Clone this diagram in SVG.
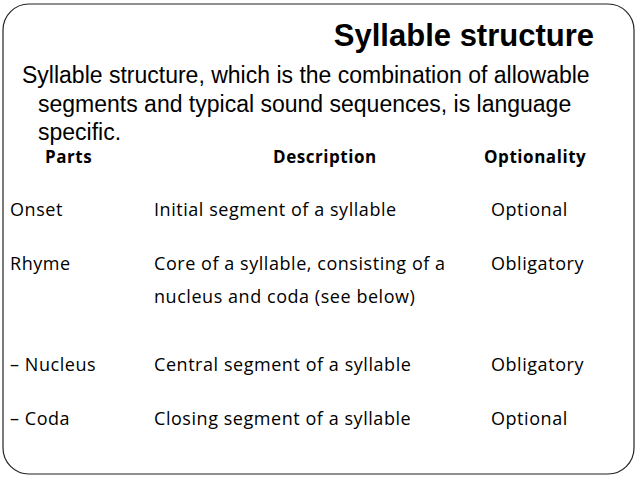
<svg xmlns="http://www.w3.org/2000/svg" width="638" height="479" viewBox="0 0 638 479">
<style>
.t{font-family:"Liberation Sans",Arial,sans-serif;fill:#000}
.c{font-family:"Open Sans","Liberation Sans",sans-serif;font-size:18px;letter-spacing:0.55px;fill:#000}
.h{font-weight:bold}
</style>
<rect width="638" height="479" fill="#fff"/>
<rect x="3" y="4" width="631" height="470" rx="26" fill="none" stroke="#222" stroke-width="1.2"/>
<text class="t h" x="594" y="46" font-size="31" text-anchor="end">Syllable structure</text>
<text class="t" x="22" y="83" font-size="23">Syllable structure, which is the combination of allowable</text>
<text class="t" x="38" y="112" font-size="23">segments and typical sound sequences, is language</text>
<text class="t" x="38" y="140" font-size="23">specific.</text>
<g class="c">
<text class="h" x="45" y="163" font-size="17">Parts</text>
<text class="h" x="273" y="163" font-size="17">Description</text>
<text class="h" x="484" y="163" font-size="17">Optionality</text>
<text x="10" y="216">Onset</text>
<text x="154" y="216">Initial segment of a syllable</text>
<text x="491" y="216">Optional</text>
<text x="10" y="270">Rhyme</text>
<text x="154" y="270">Core of a syllable, consisting of a</text>
<text x="154" y="303">nucleus and coda (see below)</text>
<text x="491" y="270">Obligatory</text>
<text x="10" y="371">– Nucleus</text>
<text x="154" y="371">Central segment of a syllable</text>
<text x="491" y="371">Obligatory</text>
<text x="10" y="425">– Coda</text>
<text x="154" y="425">Closing segment of a syllable</text>
<text x="491" y="425">Optional</text>
</g>
</svg>
